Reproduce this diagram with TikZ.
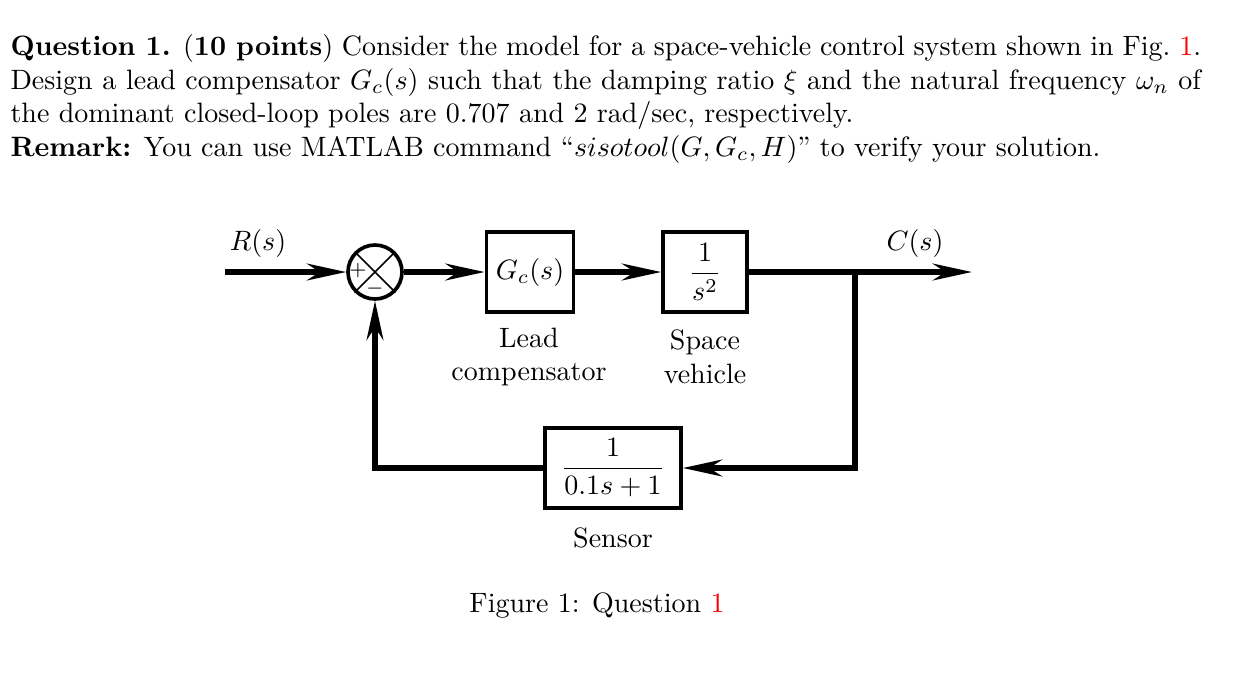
\documentclass[tikz,border=0pt]{standalone}
\usepackage{amsmath}
\usetikzlibrary{arrows.meta,positioning}
\tikzset{
  blk/.style={draw,line width=1.3pt,minimum width=84\unitlen,minimum height=80\unitlen},
  sig/.style={line width=1.9pt,-{Stealth[length=14pt,width=6pt]}},
  wire/.style={line width=1.9pt},
  lbl/.style={align=center}
}
\newlength\unitlen \setlength\unitlen{0.357pt}
\begin{document}
\begin{tikzpicture}[x=0.357pt,y=-0.357pt]
\useasboundingbox (0,0) rectangle (1252,674);

% question text
\node[anchor=north west,text width=425pt,align=justify,inner sep=0pt] (qtext) at (10,34)
{\textbf{Question 1.} (\textbf{10 points}) Consider the model for a space-vehicle control system shown in Fig.~\textcolor{red}{1}.
Design a lead compensator $G_c(s)$ such that the damping ratio $\xi$ and the natural frequency $\omega_n$ of
the dominant closed-loop poles are 0.707 and 2 rad/sec, respectively.\\
\textbf{Remark:} You can use MATLAB command ``$sisotool(G,G_c,H)$'' to verify your solution.};

% blocks
\node[draw,circle,line width=1.3pt,minimum size=54\unitlen,inner sep=0pt] (sum) at (375,272) {};
\draw[line width=0.6pt] (sum.north west) -- (sum.south east) (sum.north east) -- (sum.south west);
\node[font=\scriptsize,inner sep=0pt] (plus) at (358,271) {$+$};
\node[font=\scriptsize,inner sep=0pt] (minus) at (375,289) {$-$};
\node[blk] (ctrl) at (530,272) {$G_c(s)$};
\node[blk] (plant) at (705,272) {$\dfrac{1}{s^2}$};
\node[blk,minimum width=136\unitlen] (sens) at (613,468) {$\dfrac{1}{0.1s + 1}$};

\coordinate (in) at (225,272);
\coordinate (br) at (855,272);
\coordinate (out) at (972,272);

% connectors
\draw[sig] (in) -- (sum);
\draw[sig] (sum) -- (ctrl);
\draw[sig] (ctrl) -- (plant);
\draw[sig] (plant) -- (out);
\draw[sig] (br) |- (sens);
\draw[sig] (sens) -| (sum);

% labels
\node[lbl] (rlbl) at (258,243) {$R(s)$};
\node[lbl] (clbl) at (915,243) {$C(s)$};
\node[lbl] (ctrllbl) at (529,357) {Lead\\compensator};
\node[lbl] (plantlbl) at (705,357) {Space\\vehicle};
\node[lbl] (senslbl) at (613,538) {Sensor};
\node (cap) at (597,605) {Figure 1: Question \textcolor{red}{1}};
\end{tikzpicture}
\end{document}
